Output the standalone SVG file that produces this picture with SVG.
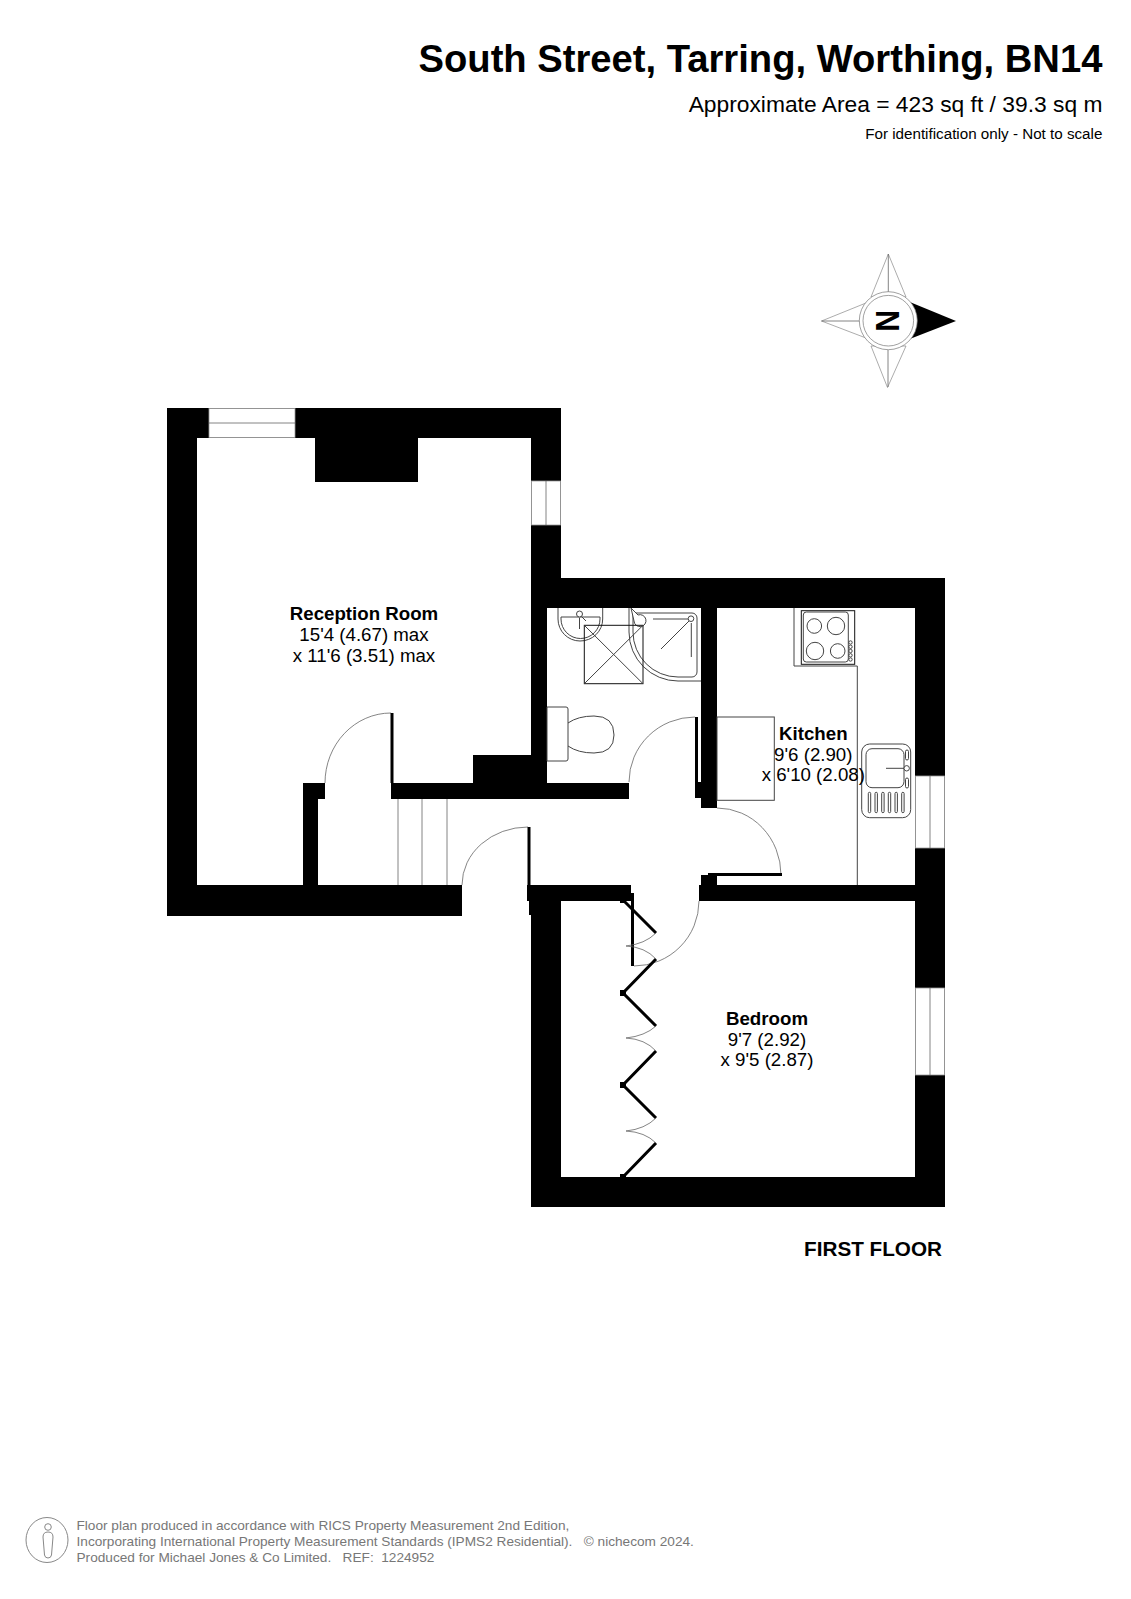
<svg xmlns="http://www.w3.org/2000/svg" width="1131" height="1599" viewBox="0 0 1131 1599">
<style>
text{font-family:"Liberation Sans",Arial,sans-serif;fill:#000}
.b{font-weight:bold}
.r{font-size:18.7px;text-anchor:middle}
.f{font-size:13.65px;fill:#777}
.win{fill:#fff;stroke:#999;stroke-width:.8}
.thin{fill:none;stroke:#666;stroke-width:.8}
.fx{fill:none;stroke:#444;stroke-width:1}
.fw{fill:#fff;stroke:#444;stroke-width:1}
.k{fill:#000}
.leaf{stroke:#000;stroke-width:3;fill:none}
.star{fill:#fff;stroke:#888;stroke-width:.7}
</style>
<rect width="1131" height="1599" fill="#fff"/>
<g id="header">
<text class="b" x="1102.400" y="72.400" text-anchor="end" font-size="38.200">South Street, Tarring, Worthing, BN14</text>
<text x="1102.400" y="112" text-anchor="end" font-size="22.800">Approximate Area = 423 sq ft / 39.3 sq m</text>
<text x="1102.400" y="138.500" text-anchor="end" font-size="15.200">For identification only - Not to scale</text>
</g>
<g id="compass">
<polygon class="star" points="888.300,254 906,297 871,297"/>
<polygon class="star" points="887.500,387.500 906,346 871,346"/>
<polygon class="star" points="821.500,321 866,303 866,338"/>
<line x1="888.300" y1="254" x2="888.300" y2="292" class="thin"/>
<line x1="888" y1="350" x2="888" y2="387" class="thin"/>
<line x1="821.500" y1="321" x2="860" y2="321" class="thin"/>
<polygon class="k" points="911,302.500 956,321 911,338.500"/>
<circle cx="888.300" cy="320.700" r="29" fill="#fff" stroke="#777" stroke-width=".7"/>
<circle cx="888.300" cy="320.700" r="25.300" fill="#fff" stroke="#777" stroke-width=".7"/>
<text class="b" transform="translate(888.300 320.700) rotate(90) scale(1 1.130)" y="10.700" text-anchor="middle" font-size="30">N</text>
</g>
<g id="walls" class="k">
<rect x="167" y="408" width="30" height="508"/>
<rect x="167" y="885" width="295" height="31"/>
<rect x="167" y="408" width="394" height="30"/>
<rect x="315" y="408" width="103" height="74"/>
<rect x="531" y="408" width="30" height="170"/>
<rect x="531" y="578" width="16" height="220"/>
<rect x="531" y="578" width="414" height="30"/>
<rect x="915" y="578" width="30" height="629"/>
<rect x="701" y="578" width="16" height="230"/>
<rect x="695" y="782" width="22" height="16"/>
<rect x="391" y="783" width="238" height="16"/>
<rect x="473" y="755" width="58" height="29"/>
<rect x="303" y="783" width="22" height="16"/>
<rect x="303" y="783" width="15" height="103"/>
<rect x="527" y="885" width="104" height="16"/>
<rect x="529" y="885" width="32" height="30"/>
<rect x="531" y="885" width="30" height="322"/>
<rect x="531" y="1177" width="414" height="30"/>
<rect x="699" y="885" width="246" height="16"/>
<rect x="701" y="875" width="16" height="11"/>
</g>
<g id="windows">
<rect class="win" x="209" y="408.500" width="86" height="29"/><line class="thin" x1="209" y1="423" x2="295" y2="423"/>
<rect class="win" x="531.500" y="481" width="29" height="44"/><line class="thin" x1="546" y1="481" x2="546" y2="525"/>
<rect class="win" x="915.500" y="776" width="29" height="72"/><line class="thin" x1="930" y1="776" x2="930" y2="848"/>
<rect class="win" x="915.500" y="988" width="29" height="87"/><line class="thin" x1="930" y1="988" x2="930" y2="1075"/>
</g>
<g id="doors">
<path class="thin" d="M391 713A66 70 0 0 0 325 783"/><path class="leaf" d="M392 713V783"/>
<path class="thin" d="M528 827A66 58 0 0 0 462 885"/><path class="leaf" d="M529 827V885"/>
<path class="thin" d="M695 717A66 65 0 0 0 629 782"/><path class="leaf" d="M696.500 717V782"/>
<path class="thin" d="M717 808A64 67 0 0 1 781 875"/><path class="leaf" d="M708 874.500H782"/>
<path class="thin" d="M699 901A65 65 0 0 1 634 966"/><path class="leaf" d="M632.500 893V966"/>
</g>
<g id="wardrobe">
<path d="M623 900L656 933M656 959L623 993L656 1026M656 1051L623 1085L656 1118M656 1143L623 1177" stroke="#000" stroke-width="3" fill="none"/>
<rect class="k" x="620" y="990" width="6" height="6"/><rect class="k" x="620" y="1082" width="6" height="6"/><rect class="k" x="620" y="1174" width="6" height="6"/><rect class="k" x="620" y="897" width="6" height="6"/>
<path class="thin" d="M656 933Q645 944 626 946Q645 947 656 959M656 1026Q645 1036 626 1038Q645 1039 656 1051M656 1118Q645 1129 626 1131Q645 1132 656 1143"/>
</g>
<g id="stairs">
<path class="thin" d="M398 799V885M422 799V885M447 799V885"/>
</g>
<g id="bathroom">
<path class="fx" d="M558 608V619A22 22 0 0 0 580 641A22.500 22 0 0 0 602.700 619V608"/>
<path class="fx" d="M561 617H600V619A19.500 19.500 0 0 1 561 619Z"/>
<path class="fx" d="M579.500 618V629" stroke-width="3"/><path class="fx" d="M580 615L586 621" stroke-width="2"/><circle class="fw" cx="579.500" cy="614" r="3"/>
<path class="fx" d="M629 608V632A49 49 0 0 0 678 681H701"/>
<path class="fx" d="M633 613H692A5 5 0 0 1 697 618V672A5 5 0 0 1 692 677H678A45 45 0 0 1 633 632Z"/>
<path class="fx" d="M653 619H688M691.300 623V657M689 621L661 649"/><circle class="fx" cx="691" cy="618.700" r="2.800"/>
<path class="fw" d="M631 608L638 615A6 6 0 1 1 634 621Z"/>
<rect x="584.300" y="625.300" width="58.700" height="58.400" fill="none" stroke="#111" stroke-width="1"/>
<path class="fx" d="M584.300 625.300L643 683.700M643 625.300L584.300 683.700"/>
<path class="fw" d="M547 707H566Q568 707 568 709V759Q568 761 566 761H547Z"/>
<path class="fx" d="M568 723Q578 716 594 716Q614 716 614 735Q614 753 594 753Q578 753 568 746"/>
</g>
<g id="kitchen">
<path class="fx" d="M794 608V666H857.300V885" stroke="#555"/>
<rect class="fx" x="717" y="717" width="57.300" height="83.300"/>
<rect x="801.300" y="610.700" width="53.400" height="53.600" fill="none" stroke="#111"/>
<rect class="fx" x="803.300" y="612" width="45" height="50" rx="3"/>
<circle class="fx" cx="814.300" cy="626" r="7.300"/><circle class="fx" cx="836" cy="626" r="8.700"/><circle class="fx" cx="815" cy="651" r="8.700"/><circle class="fx" cx="837.700" cy="651" r="7.300"/>
<circle class="fx" cx="850.500" cy="642.500" r="1.700"/><circle class="fx" cx="850.500" cy="646.800" r="1.700"/><circle class="fx" cx="850.500" cy="651" r="1.700"/><circle class="fx" cx="850.500" cy="655.300" r="1.700"/><circle class="fx" cx="850.500" cy="659.500" r="1.700"/>
<rect class="fx" x="861.700" y="744" width="49" height="73.700" rx="8"/>
<rect class="fx" x="866" y="748.700" width="38" height="39" rx="6"/>
<path class="fx" d="M886 768.300H905" stroke-width="3"/><circle class="fw" cx="906.700" cy="768.300" r="2.700"/>
<rect class="fx" x="905.500" y="750" width="3" height="10" rx="1.500"/><rect class="fx" x="905.500" y="778" width="3" height="10" rx="1.500"/>
<rect class="fx" x="868.300" y="792.300" width="2.400" height="20.400" rx="1.200"/><rect class="fx" x="875" y="792.300" width="2.400" height="20.400" rx="1.200"/><rect class="fx" x="881.700" y="792.300" width="2.400" height="20.400" rx="1.200"/><rect class="fx" x="888.300" y="792.300" width="2.400" height="20.400" rx="1.200"/><rect class="fx" x="895" y="792.300" width="2.400" height="20.400" rx="1.200"/><rect class="fx" x="901.700" y="792.300" width="2.400" height="20.400" rx="1.200"/>
</g>
<g id="reception-room-label">
<text class="r b" x="364" y="619.500">Reception Room</text>
<text class="r" x="364" y="640.500">15'4 (4.67) max</text>
<text class="r" x="364" y="661.500">x 11'6 (3.51) max</text>
</g>
<g id="kitchen-label">
<text class="r b" x="813.300" y="740">Kitchen</text>
<text class="r" x="813.300" y="760.700">9'6 (2.90)</text>
<text class="r" x="813.300" y="781.400">x 6'10 (2.08)</text>
</g>
<g id="bedroom-label">
<text class="r b" x="767" y="1025">Bedroom</text>
<text class="r" x="767" y="1045.700">9'7 (2.92)</text>
<text class="r" x="767" y="1066.400">x 9'5 (2.87)</text>
</g>
<text class="b" x="942" y="1256" text-anchor="end" font-size="20.700">FIRST FLOOR</text>
<g id="footer">
<ellipse cx="47" cy="1540" rx="21" ry="22.500" fill="none" stroke="#888" stroke-width="1"/>
<circle cx="48" cy="1527" r="3.300" fill="none" stroke="#888"/>
<path d="M43 1537Q43 1532 48 1532Q53 1532 53 1537L51.500 1555Q51 1558 48 1558Q45 1558 44.500 1555Z" fill="none" stroke="#888"/>
<text class="f" x="76.500" y="1529.500">Floor plan produced in accordance with RICS Property Measurement 2nd Edition,</text>
<text class="f" x="76.500" y="1545.500" xml:space="preserve">Incorporating International Property Measurement Standards (IPMS2 Residential).   © nichecom 2024.</text>
<text class="f" x="76.500" y="1561.500" xml:space="preserve">Produced for Michael Jones &amp; Co Limited.   REF:  1224952</text>
</g>
</svg>
